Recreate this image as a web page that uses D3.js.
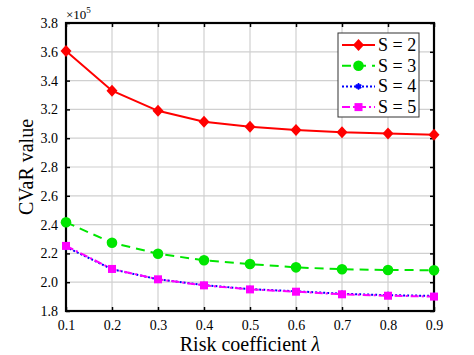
<!DOCTYPE html>
<html><head><meta charset="utf-8">
<script src="https://cdn.jsdelivr.net/npm/d3@7"></script>
<style>body{margin:0;background:#fff}svg{display:block}text{font-family:"Liberation Serif","Times New Roman",serif;fill:#000}</style>
</head><body><svg id="c" width="474" height="355"></svg>
<script>
const lambdas = [0.1,0.2,0.3,0.4,0.5,0.6,0.7,0.8,0.9];
const s2 = [3.605,3.33,3.19,3.115,3.08,3.057,3.041,3.033,3.024];
const s3 = [2.416,2.274,2.198,2.152,2.126,2.103,2.09,2.085,2.083];
const s4 = [2.245,2.09,2.02,1.98,1.952,1.937,1.92,1.91,1.905];
const s5 = [2.252,2.092,2.02,1.978,1.95,1.934,1.916,1.906,1.9];
const seriesNames = ["S = 2","S = 3","S = 4","S = 5"];
const yTicks = [1.8,2.0,2.2,2.4,2.6,2.8,3.0,3.2,3.4,3.6,3.8];
const xTicks = [0.1,0.2,0.3,0.4,0.5,0.6,0.7,0.8,0.9];

const svg = d3.select("#c");
const L=66,R=434,T=23,B=311;
const x = d3.scaleLinear().domain([0.1,0.9]).range([L,R]);
const y = d3.scaleLinear().domain([1.8,3.8]).range([B,T]);
const SERIF = "Liberation Serif, Times New Roman, serif";

// grid
svg.append("g").selectAll("line").data(xTicks).join("line")
 .attr("x1",d=>x(d)).attr("x2",d=>x(d)).attr("y1",T).attr("y2",B)
 .attr("stroke","#d0d0d0").attr("stroke-width",1.2);
svg.append("g").selectAll("line").data(yTicks).join("line")
 .attr("y1",d=>y(d)).attr("y2",d=>y(d)).attr("x1",L).attr("x2",R)
 .attr("stroke","#d0d0d0").attr("stroke-width",1.2);

// axes
const fmt = d3.format(".1f");
const ax = svg.append("g").attr("transform",`translate(0,${B})`)
 .call(d3.axisBottom(x).tickValues(xTicks).tickFormat(fmt).tickSizeInner(-4).tickSizeOuter(0).tickPadding(9));
const ay = svg.append("g").attr("transform",`translate(${L},0)`)
 .call(d3.axisLeft(y).tickValues(yTicks).tickFormat(fmt).tickSizeInner(-4).tickSizeOuter(0).tickPadding(8));
const axT = svg.append("g").attr("transform",`translate(0,${T})`)
 .call(d3.axisTop(x).tickValues(xTicks).tickFormat("").tickSizeInner(-4).tickSizeOuter(0));
const ayR = svg.append("g").attr("transform",`translate(${R},0)`)
 .call(d3.axisRight(y).tickValues(yTicks).tickFormat("").tickSizeInner(-4).tickSizeOuter(0));
[ax,ay,axT,ayR].forEach(g=>{
 g.attr("font-family",SERIF).attr("font-size",14);
 g.select(".domain").remove();
 g.selectAll(".tick line").attr("stroke","#000").attr("stroke-width",1.5);
 g.selectAll(".tick text").attr("font-family",SERIF).style("font-family",SERIF).style("font-size","14px");
});
svg.append("rect").attr("x",L).attr("y",T).attr("width",R-L).attr("height",B-T)
 .attr("fill","none").attr("stroke","#000").attr("stroke-width",2.2);

// multiplier
const mt = svg.append("text").attr("x",L).attr("y",19).style("font-size","13px");
mt.append("tspan").text("×10");
mt.append("tspan").attr("dy",-6).style("font-size","9px").text("5");

// labels
svg.append("text").attr("x",(L+R)/2).attr("y",351).attr("text-anchor","middle")
 .style("font-size","20px").html('Risk coefficient <tspan font-style="italic">λ</tspan>');
svg.append("text").attr("transform",`translate(33,${(T+B)/2}) rotate(-90)`).attr("text-anchor","middle")
 .style("font-size","20px").text("CVaR value");

const cfg = [
 {v:s2,c:"#ff0000",dash:null,m:"diamond"},
 {v:s3,c:"#00e600",dash:"9,6",m:"circle"},
 {v:s4,c:"#0000ff",dash:"2,2",m:"star"},
 {v:s5,c:"#ff00ff",dash:"8,3,2,3",m:"square"}
];
const line = d3.line().x((d,i)=>x(lambdas[i])).y(d=>y(d));
function marker(g,type,c,cx,cy){
 if(type==="diamond") g.append("path").attr("d",`M${cx},${cy-6}L${cx+5.5},${cy}L${cx},${cy+6}L${cx-5.5},${cy}Z`).attr("fill",c);
 else if(type==="circle") g.append("circle").attr("cx",cx).attr("cy",cy).attr("r",5.3).attr("fill",c);
 else if(type==="square") g.append("rect").attr("x",cx-4).attr("y",cy-4).attr("width",8).attr("height",8).attr("fill",c);
 else { g.append("path").attr("d",d3.symbol(d3.symbolAsterisk,30)()).attr("transform",`translate(${cx},${cy})`).attr("stroke",c).attr("stroke-width",1.6).attr("fill","none");
        g.append("circle").attr("cx",cx).attr("cy",cy).attr("r",2.5).attr("fill",c); }
}
cfg.forEach(s=>{
 const g = svg.append("g");
 g.append("path").attr("d",line(s.v)).attr("fill","none").attr("stroke",s.c).attr("stroke-width",2)
  .attr("stroke-dasharray",s.dash);
 s.v.forEach((d,i)=>marker(g,s.m,s.c,x(lambdas[i]),y(d)));
});

// legend
const lg = svg.append("g");
lg.append("rect").attr("x",338).attr("y",33).attr("width",81).attr("height",84)
 .attr("fill","#fff").attr("stroke","#333").attr("stroke-width",1);
cfg.forEach((s,i)=>{
 const yy = 45+i*20.7;
 lg.append("line").attr("x1",342).attr("x2",375).attr("y1",yy).attr("y2",yy)
  .attr("stroke",s.c).attr("stroke-width",2).attr("stroke-dasharray",s.dash);
 marker(lg,s.m,s.c,358.5,yy);
 lg.append("text").attr("x",378).attr("y",yy+6).style("font-size","18px").text(seriesNames[i]);
});
</script></body></html>
